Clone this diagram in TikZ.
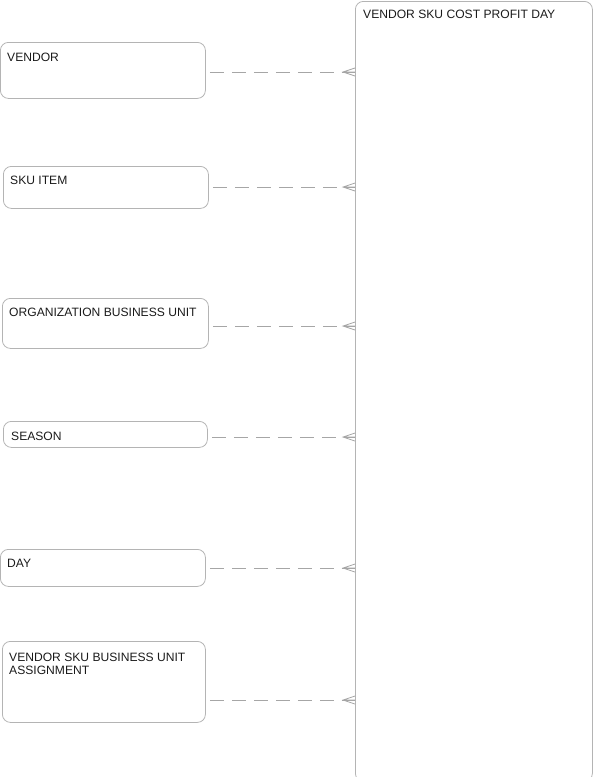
\documentclass[tikz,border=0pt]{standalone}
\usepackage{fontspec}
\setmainfont{Liberation Sans}
\usetikzlibrary{positioning}
\definecolor{cBorder}{HTML}{B4B4B4}
\definecolor{cLink}{HTML}{A6A6A6}
\definecolor{cText}{HTML}{1A1A1A}

\begin{document}
\begin{tikzpicture}[
  x=1pt, y=-1pt,
  entity/.style={rectangle, rounded corners=8pt, draw=cBorder, line width=0.8pt,
    anchor=north west, inner sep=0pt},
  lbl/.style={anchor=north west, inner sep=0pt, text=cText, align=left,
    font=\fontsize{12.1}{13}\selectfont, xshift=7pt, yshift=-10pt},
  rel/.style={draw=cLink, line width=0.8pt, dash pattern=on 14pt off 8pt},
  foot/.style={draw=cLink, line width=0.8pt}
]
  \clip (0,0) rectangle (593,777);

  % fact table on the right, runs past the bottom edge
  \node[entity, minimum width=237pt, minimum height=780pt,
    label={[lbl, xshift=1pt, yshift=1pt]north west:VENDOR SKU COST PROFIT DAY}] (fact) at (355,1) {};

  % dimension tables
  \node[entity, minimum width=205pt, minimum height=56pt,
    label={[lbl, yshift=-1pt]north west:VENDOR}] (vendor) at (0,42) {};
  \node[entity, minimum width=205pt, minimum height=42pt,
    label={[lbl]north west:SKU ITEM}] (sku) at (3,166) {};
  \node[entity, minimum width=206pt, minimum height=50pt,
    label={[lbl]north west:ORGANIZATION BUSINESS UNIT}] (org) at (2,298) {};
  \node[entity, minimum width=204pt, minimum height=26pt,
    label={[lbl, xshift=1pt, yshift=-1pt]north west:SEASON}] (season) at (3,421) {};
  \node[entity, minimum width=205pt, minimum height=37pt,
    label={[lbl]north west:DAY}] (day) at (0,549) {};
  \node[entity, minimum width=203pt, minimum height=81pt,
    label={[lbl, yshift=-2pt]north west:VENDOR SKU BUSINESS UNIT\\ASSIGNMENT}] (assign) at (2,641) {};

  % one-to-many links with crow's feet at the fact table
  \foreach \src/\yy in {vendor/72, sku/187, org/326, season/437, day/568, assign/700} {
    \coordinate (\src-a) at ([xshift=4pt]\src.east |- 0,\yy);
    \coordinate (\src-b) at (fact.west |- 0,\yy);
    \draw[rel] (\src-a) -- (\src-b);
    \draw[foot] ([yshift=4pt]\src-b) -- ([xshift=-12pt]\src-b) -- ([yshift=-4pt]\src-b)
      ([xshift=-12pt]\src-b) -- (\src-b);
  }
\end{tikzpicture}
\end{document}
